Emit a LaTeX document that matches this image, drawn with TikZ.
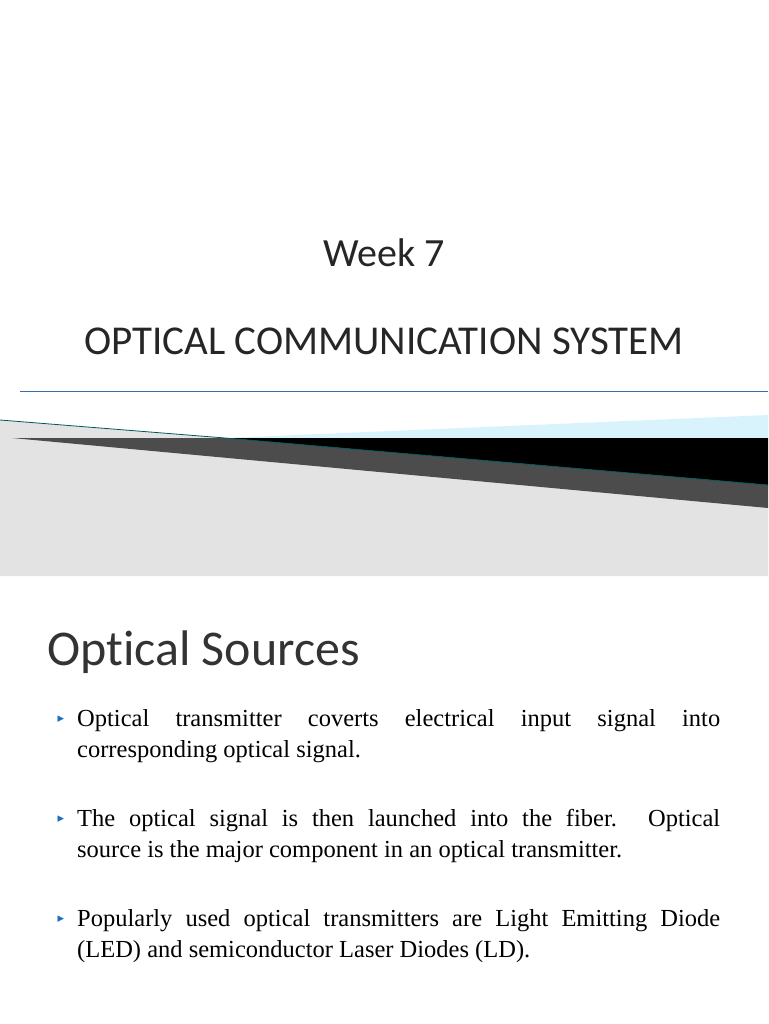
\documentclass[tikz,border=0pt]{standalone}
\usepackage{fontspec}
\setmainfont{Liberation Serif}
\newfontfamily\carl{Carlito}
\newfontfamily\djv{DejaVu Sans}
\begin{document}
\begin{tikzpicture}[x=1pt,y=-1pt,
  bul/.style={anchor=north west,text width=643pt,align=justify,inner sep=0pt,font=\fontsize{24.5}{31}\selectfont},
  bmark/.style={anchor=center,inner sep=0pt,text=cyan!50!blue,font=\djv\fontsize{13}{13}\selectfont}]
\useasboundingbox (0,0) rectangle (768,1024);
\fill[white] (0,0) rectangle (768,1024);
% banner
\draw[cyan!40!blue!60!teal,line width=0.8pt] (20,391) -- (768,391);
\fill[gray!22] (0,420) -- (225,438) -- (768,485) -- (768,576) -- (0,576) -- cycle;
\fill[cyan!15] (225,438) -- (768,415) -- (768,438) -- cycle;
\fill[black] (225,438) -- (768,438) -- (768,485) -- cycle;
\fill[gray!60!black] (12,438) -- (225,438) -- (768,485) -- (768,508) -- cycle;
\draw[teal!70!black,line width=0.8pt] (0,420) -- (225,438) -- (768,485);
\node[font=\carl\fontsize{40}{40}\selectfont,text=black!85] (wk) at (384,253) {Week 7};
\node[font=\carl\fontsize{41}{41}\selectfont,text=black!85] (ti) at (384,341) {OPTICAL COMMUNICATION SYSTEM};
\node[font=\carl\fontsize{50}{50}\selectfont,text=black!80,anchor=west,inner sep=0pt] (os) at (47,652) {Opt\kern0pt ical Sources};
\node[bul] (b1) at (77,709) {Optical transmitter coverts electrical input signal into\linebreak corresponding optical signal.};
\node[bul] (b2) at (77,809) {The optical signal is then launched into the fiber. Optical\linebreak source is the major component in an optical transmitter.};
\node[bul] (b3) at (77,909) {Popularly used optical transmitters are Light Emitting Diode\linebreak (LED) and semiconductor Laser Diodes (LD).};
\node[bmark] (m1) at (61,719) {▸};
\node[bmark] (m2) at (61,819) {▸};
\node[bmark] (m3) at (61,919) {▸};
\end{tikzpicture}
\end{document}
